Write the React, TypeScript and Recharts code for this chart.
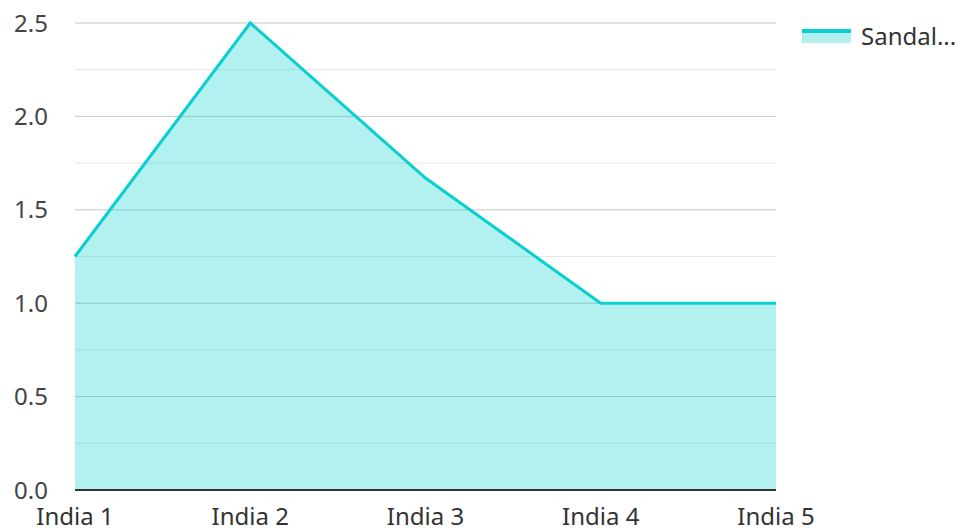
import React from "react";
import {
  AreaChart,
  Area,
  XAxis,
  YAxis,
  CartesianGrid,
  Legend,
} from "recharts";

const categories = ["India 1", "India 2", "India 3", "India 4", "India 5"];
const sandalValues = [1.25, 2.5, 1.67, 1.0, 1.0];
const seriesName = "Sandal...";
const yTicks = [0, 0.5, 1.0, 1.5, 2.0, 2.5];
const minorGrid = [0.25, 0.75, 1.25, 1.75, 2.25];

const data = categories.map((name, i) => ({ name, value: sandalValues[i] }));

const LINE = "#0acfcf";
const FONT = "'Noto Sans', sans-serif";

const LegendContent = () => (
  <div style={{ display: "flex", alignItems: "center", fontFamily: FONT }}>
    <div style={{ width: 49, height: 14, marginRight: 10 }}>
      <div style={{ height: 4, background: LINE }} />
      <div style={{ height: 10, background: "#b2efef" }} />
    </div>
    <span style={{ fontSize: 24, color: "#333", lineHeight: "28px" }}>{seriesName}</span>
  </div>
);

export default function App() {
  return (
    <div style={{ position: "fixed", left: 0, top: 0, background: "#fff" }}>
      <AreaChart
        width={962}
        height={531}
        data={data}
        margin={{ top: 23, right: 186, bottom: 0, left: 0 }}
      >
        <CartesianGrid
          vertical={false}
          horizontalValues={minorGrid}
          stroke="#e6e6e6"
          strokeWidth={1}
        />
        <CartesianGrid
          vertical={false}
          horizontalValues={yTicks}
          stroke="#c6c6c6"
          strokeWidth={1}
        />
        <XAxis
          dataKey="name"
          height={41}
          padding={{ left: 0, right: 0 }}
          tickLine={false}
          tickSize={0}
          tickMargin={18}
          axisLine={{ stroke: "#333", strokeWidth: 2 }}
          tick={{ fill: "#333", fontSize: 24, fontFamily: FONT }}
          interval={0}
        />
        <YAxis
          width={75}
          domain={[0, 2.5]}
          ticks={yTicks}
          tickFormatter={(v: number) => v.toFixed(1)}
          axisLine={false}
          tickLine={false}
          tickSize={0}
          tickMargin={27}
          tick={{ fill: "#444", fontSize: 24, fontFamily: FONT }}
        />
        <Legend
          layout="horizontal"
          verticalAlign="middle"
          align="center"
          wrapperStyle={{ top: 22, left: 802, width: 160 }}
          content={<LegendContent />}
        />
        <Area
          type="linear"
          dataKey="value"
          name={seriesName}
          stroke={LINE}
          strokeWidth={3}
          fill={LINE}
          fillOpacity={0.31}
          isAnimationActive={false}
          dot={false}
          activeDot={false}
        />
      </AreaChart>
    </div>
  );
}
